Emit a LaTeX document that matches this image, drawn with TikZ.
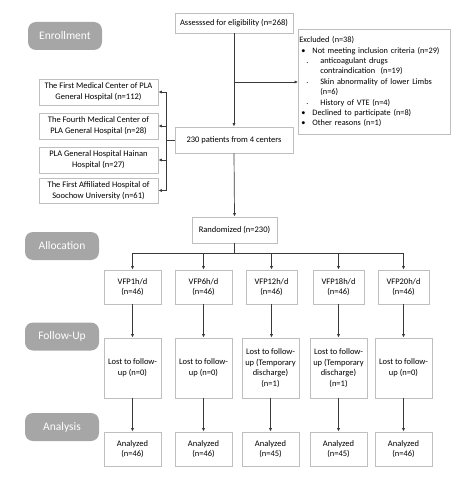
\documentclass[tikz,border=0pt]{standalone}
\usepackage{fontspec}
\setmainfont{Carlito}
\usetikzlibrary{arrows.meta}
\definecolor{boxline}{HTML}{BFBFBF}
\definecolor{pillgray}{HTML}{A6A6A6}
\definecolor{conn}{HTML}{3A3A3A}
\newcommand\lvA[1]{\hspace*{2pt}\makebox[11pt][l]{\textbullet}#1}
\newcommand\lvB[1]{\hspace*{7pt}\makebox[14pt][l]{\raisebox{0.5pt}{.}}#1}
\newcommand\lvC[1]{\hspace*{21pt}#1}
\begin{document}
\begin{tikzpicture}[x=1pt,y=-1pt,
  box/.style={draw=boxline, line width=0.8pt, fill=white, align=center, inner sep=1pt,
    font=\fontsize{8.5}{10.7}\selectfont, text=black},
  pill/.style={fill=pillgray, rounded corners=8pt, text=white, minimum width=74pt,
    minimum height=28pt, font=\fontsize{11.5}{13}\selectfont},
  line/.style={draw=conn, line width=0.7pt},
  arr/.style={line, -{Latex[length=3.5pt,width=3.2pt]}}]
\useasboundingbox (0,0) rectangle (474,481);
% phase pills
\node[pill] (penr) at (65,36) {Enrollment};
\node[pill] (palloc) at (62,246) {Allocation};
\node[pill] (pfollow) at (62,336.5) {Follow-Up};
\node[pill] (pana) at (62,427) {Analysis};
% enrollment
\node[box, minimum width=118pt, minimum height=20pt] (assess) at (234,23) {Assesssed for eligibility (n=268)};
\node[box, anchor=north west, minimum width=152pt, minimum height=105pt, text width=150pt, align=left, inner sep=1pt,
      font=\fontsize{8.3}{10.4}\selectfont] (excl) at (298,29)
 {Excluded (n=38)\\
  \lvA{Not meeting inclusion criteria (n=29)}\\
  \lvB{anticoagulant drugs}\\
  \lvC{contraindication~~(n=19)}\\
  \lvB{Skin abnormality of lower Limbs}\\
  \lvC{(n=6)}\\
  \lvB{History of VTE (n=4)}\\
  \lvA{Declined to participate (n=8)}\\
  \lvA{Other reasons (n=1)}};
\node[box, minimum width=118pt, minimum height=26pt] (pts) at (234,140) {230 patients from 4 centers};
\node[box, minimum width=119pt, minimum height=26pt] (h1) at (98.5,92) {The First Medical Center of PLA\\General Hospital (n=112)};
\node[box, minimum width=119pt, minimum height=26pt] (h2) at (98.5,126) {The Fourth Medical Center of\\PLA General Hospital (n=28)};
\node[box, minimum width=119pt, minimum height=26pt] (h3) at (98.5,160) {PLA General Hospital Hainan\\Hospital (n=27)};
\node[box, minimum width=119pt, minimum height=25pt] (h4) at (98.5,190.5) {The First Affiliated Hospital of\\Soochow University (n=61)};
\node[box, minimum width=85pt, minimum height=26pt] (rand) at (234.5,230) {Randomized (n=230)};
% groups
\node[box, minimum width=57pt, minimum height=34pt] (g1) at (132.5,287) {VFP1h/d\\(n=46)};
\node[box, minimum width=57pt, minimum height=34pt] (g2) at (203.5,287) {VFP6h/d\\(n=46)};
\node[box, minimum width=51pt, minimum height=34pt] (g3) at (271.5,287) {VFP12h/d\\(n=46)};
\node[box, minimum width=51pt, minimum height=34pt] (g4) at (338.5,287) {VFP18h/d\\(n=46)};
\node[box, minimum width=51pt, minimum height=34pt] (g5) at (403.5,287) {VFP20h/d\\(n=46)};
% follow-up
\node[box, minimum width=57pt, minimum height=60pt] (l1) at (132.5,368) {Lost to follow-\\up (n=0)};
\node[box, minimum width=57pt, minimum height=60pt] (l2) at (203.5,368) {Lost to follow-\\up (n=0)};
\node[box, minimum width=57pt, minimum height=60pt] (l3) at (270.5,368) {Lost to follow-\\up (Temporary\\discharge)\\(n=1)};
\node[box, minimum width=57pt, minimum height=60pt] (l4) at (338.5,368) {Lost to follow-\\up (Temporary\\discharge)\\(n=1)};
\node[box, minimum width=57pt, minimum height=60pt] (l5) at (403.5,368) {Lost to follow-\\up (n=0)};
% analysis
\node[box, minimum width=57pt, minimum height=34pt] (a1) at (132.5,449) {Analyzed\\(n=46)};
\node[box, minimum width=57pt, minimum height=34pt] (a2) at (203.5,449) {Analyzed\\(n=46)};
\node[box, minimum width=57pt, minimum height=34pt] (a3) at (270.5,449) {Analyzed\\(n=45)};
\node[box, minimum width=57pt, minimum height=34pt] (a4) at (338.5,449) {Analyzed\\(n=45)};
\node[box, minimum width=57pt, minimum height=34pt] (a5) at (403.5,449) {Analyzed\\(n=46)};
% connectors
\coordinate (br) at (234,82);
\draw[arr] (assess.south) -- (pts.north);
\draw[arr] (br) -- (br -| excl.west);
\coordinate (bk) at (166,140);
\draw[line] (pts.west) -- (bk);
\draw[line] (bk |- h1.east) -- (bk |- h4.east);
\foreach \h in {h1,h2,h3,h4} \draw[arr] (bk |- \h.east) -- (\h.east);
\draw[arr] (pts.south) -- (rand.north);
\coordinate (bus) at (234.5,253);
\draw[line] (rand.south) -- (bus);
\draw[line] (bus -| g1.north) -- (bus -| g5.north);
\foreach \g in {g1,g2,g3,g4,g5} \draw[arr] (bus -| \g.north) -- (\g.north);
\foreach \g/\l in {g1/l1,g2/l2,g3/l3,g4/l4,g5/l5} \draw[arr] (\g.south) -- (\g.south |- \l.north);
\foreach \l/\a in {l1/a1,l2/a2,l3/a3,l4/a4,l5/a5} \draw[arr] (\l.south) -- (\l.south |- \a.north);
\end{tikzpicture}
\end{document}
